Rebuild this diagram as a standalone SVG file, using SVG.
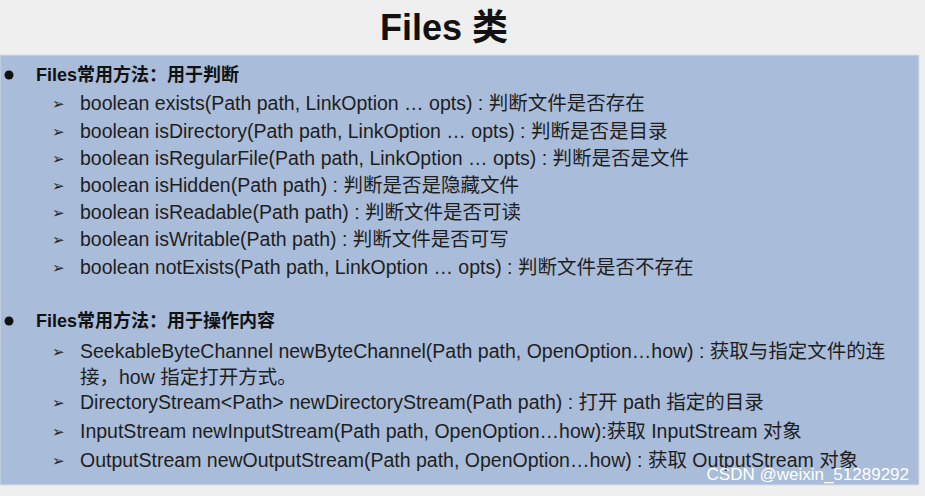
<svg xmlns="http://www.w3.org/2000/svg" width="925" height="496" viewBox="0 0 925 496">
<style>
.t{font-family:"Liberation Sans","Noto Sans CJK SC",sans-serif;font-size:19.5px;fill:#1e1e1e}
.h{font-family:"Liberation Sans","Noto Sans CJK SC",sans-serif;font-size:18px;font-weight:bold;fill:#111}
.a{font-family:"DejaVu Sans",sans-serif;font-size:15px;fill:#222}
</style>
<rect width="925" height="496" fill="#efefef"/>
<rect x="0" y="55" width="919" height="430" fill="#a9bcd9" stroke="#d8dde6"/>
<text x="444" y="40" text-anchor="middle" font-family="Liberation Sans,Noto Sans CJK SC,sans-serif" font-size="36" font-weight="bold" fill="#111">Files 类</text>
<circle cx="9" cy="75" r="4.5" fill="#111"/>
<text class="h" x="36" y="81">Files常用方法：用于判断</text>
<g>
<text class="a" x="52" y="109">➢</text><text class="t" x="80" y="110">boolean exists(Path path, LinkOption … opts) : 判断文件是否存在</text>
<text class="a" x="52" y="137">➢</text><text class="t" x="80" y="138">boolean isDirectory(Path path, LinkOption … opts) : 判断是否是目录</text>
<text class="a" x="52" y="164">➢</text><text class="t" x="80" y="165">boolean isRegularFile(Path path, LinkOption … opts) : 判断是否是文件</text>
<text class="a" x="52" y="191">➢</text><text class="t" x="80" y="192">boolean isHidden(Path path) : 判断是否是隐藏文件</text>
<text class="a" x="52" y="218">➢</text><text class="t" x="80" y="219">boolean isReadable(Path path) : 判断文件是否可读</text>
<text class="a" x="52" y="245">➢</text><text class="t" x="80" y="246">boolean isWritable(Path path) : 判断文件是否可写</text>
<text class="a" x="52" y="273">➢</text><text class="t" x="80" y="274">boolean notExists(Path path, LinkOption … opts) : 判断文件是否不存在</text>
</g>
<circle cx="9" cy="321" r="4.5" fill="#111"/>
<text class="h" x="36" y="327">Files常用方法：用于操作内容</text>
<g>
<text class="a" x="52" y="357">➢</text><text class="t" x="80" y="358">SeekableByteChannel newByteChannel(Path path, OpenOption…how) : 获取与指定文件的连</text>
<text class="t" x="80" y="384">接，how 指定打开方式。</text>
<text class="a" x="52" y="408">➢</text><text class="t" x="80" y="409">DirectoryStream&lt;Path&gt;  newDirectoryStream(Path path) : 打开 path 指定的目录</text>
<text class="a" x="52" y="437">➢</text><text class="t" x="80" y="438">InputStream newInputStream(Path path, OpenOption…how):获取 InputStream 对象</text>
<text class="a" x="52" y="466">➢</text><text class="t" x="80" y="467">OutputStream newOutputStream(Path path, OpenOption…how) : 获取 OutputStream 对象</text>
</g>
<text x="909" y="480" text-anchor="end" font-family="Liberation Sans,sans-serif" font-size="17" fill="#fff">CSDN @weixin_51289292</text>
</svg>
